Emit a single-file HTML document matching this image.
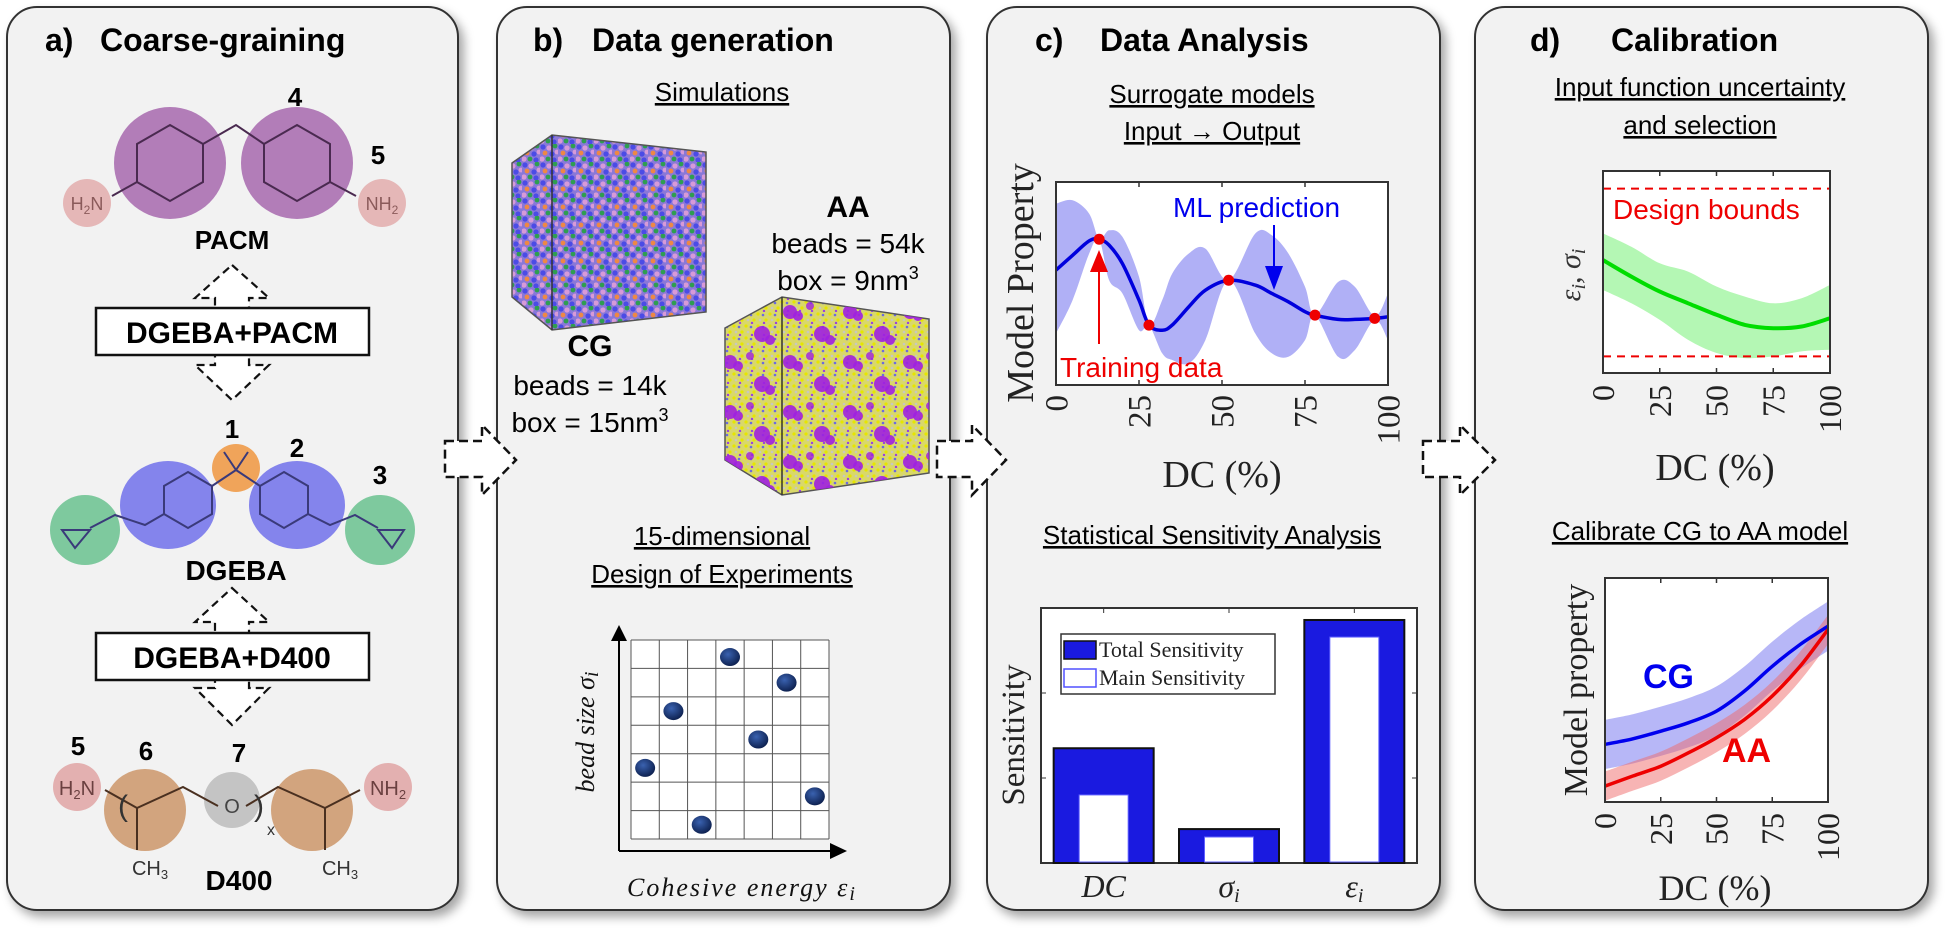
<!DOCTYPE html>
<html><head><meta charset="utf-8"><style>
html,body{margin:0;padding:0;background:#fff;}
svg{display:block;}
.hd{font-family:"Liberation Sans",sans-serif;font-weight:bold;font-size:32px;fill:#000;}
.sub{font-family:"Liberation Sans",sans-serif;font-size:26px;fill:#000;text-decoration:underline;}
.ss{font-family:"Liberation Sans",sans-serif;font-size:28px;fill:#000;}
.bold{font-family:"Liberation Sans",sans-serif;font-weight:bold;fill:#000;}
.ser{font-family:"Liberation Serif",serif;fill:#222;}
</style></head><body>
<svg id="fig" width="1948" height="933" viewBox="0 0 1948 933" xmlns="http://www.w3.org/2000/svg">
<defs>
<filter id="sh" x="-5%" y="-5%" width="115%" height="115%"><feDropShadow dx="5" dy="6" stdDeviation="5" flood-color="#000" flood-opacity="0.35"/></filter>
<pattern id="cgp" width="18" height="18" patternUnits="userSpaceOnUse">
<rect width="18" height="18" fill="#8a78d8"/>
<circle cx="3" cy="3" r="2.6" fill="#4b4be6"/><circle cx="9" cy="4" r="2.6" fill="#d79ad8"/><circle cx="15" cy="2" r="2.4" fill="#2e9e50"/>
<circle cx="5" cy="9" r="2.4" fill="#ee8844"/><circle cx="12" cy="10" r="2.6" fill="#4b4be6"/><circle cx="17" cy="8" r="2.4" fill="#d79ad8"/>
<circle cx="2" cy="15" r="2.6" fill="#d79ad8"/><circle cx="8" cy="15" r="2.4" fill="#2e9e50"/><circle cx="14" cy="16" r="2.6" fill="#4b4be6"/>
</pattern>
<pattern id="aap" width="12" height="12" patternUnits="userSpaceOnUse">
<rect width="12" height="12" fill="#d9d86a"/>
<circle cx="2" cy="2" r="1.6" fill="#e6e600"/><circle cx="7" cy="3" r="1.3" fill="#6a6ae0"/><circle cx="10" cy="8" r="1.6" fill="#e6e600"/>
<circle cx="4" cy="8" r="1.3" fill="#c8c8c0"/><circle cx="8" cy="11" r="1.2" fill="#9a40e0"/>
</pattern>
<pattern id="aab" width="60" height="50" patternUnits="userSpaceOnUse">
<circle cx="10" cy="12" r="7" fill="#a020e0" opacity="0.9"/><circle cx="18" cy="16" r="5" fill="#a020e0" opacity="0.9"/>
<circle cx="42" cy="34" r="8" fill="#a020e0" opacity="0.9"/><circle cx="50" cy="40" r="5" fill="#a020e0" opacity="0.9"/>
<circle cx="30" cy="6" r="4" fill="#a020e0" opacity="0.8"/>
</pattern>
<radialGradient id="dotg" cx="0.4" cy="0.35" r="0.7"><stop offset="0" stop-color="#3a62b0"/><stop offset="1" stop-color="#0b1d4a"/></radialGradient>
<clipPath id="c1clip"><rect x="1056" y="182" width="332" height="203"/></clipPath>
<clipPath id="d1clip"><rect x="1603" y="171" width="227" height="202"/></clipPath>
<clipPath id="d2clip"><rect x="1605" y="578" width="223" height="224"/></clipPath>
</defs>

<!-- panels -->
<rect x="7" y="7" width="451" height="903" rx="30" fill="#f2f2f2" stroke="#333" stroke-width="2" filter="url(#sh)"/>
<rect x="497" y="7" width="453" height="903" rx="30" fill="#f2f2f2" stroke="#333" stroke-width="2" filter="url(#sh)"/>
<rect x="987" y="7" width="453" height="903" rx="30" fill="#f2f2f2" stroke="#333" stroke-width="2" filter="url(#sh)"/>
<rect x="1475" y="7" width="453" height="903" rx="30" fill="#f2f2f2" stroke="#333" stroke-width="2" filter="url(#sh)"/>

<!-- flow arrows -->
<g fill="#fff" stroke="#111" stroke-width="2.5" stroke-dasharray="9,5">
<path d="M445,441 H482 V425 L516,460 L482,495 V477 H445 Z"/>
<path d="M937,441 H972 V425 L1006,460 L972,495 V477 H937 Z"/>
<path d="M1423,441 H1460 V425 L1495,460 L1460,495 V477 H1423 Z"/>
</g>

<!-- ========== PANEL A ========== -->
<g>
<text x="45" y="51" class="hd">a)</text>
<text x="100" y="51" class="hd">Coarse-graining</text>
<!-- PACM -->
<circle cx="87" cy="203" r="24" fill="#e3b0b0" opacity="0.9"/>
<circle cx="382" cy="203" r="24" fill="#e3b0b0" opacity="0.9"/>
<circle cx="170" cy="163" r="56" fill="#b27db8"/>
<circle cx="297" cy="163" r="56" fill="#b27db8"/>
<g fill="none" stroke="#4a2a50" stroke-width="2">
<polygon points="170,125 203,144 203,182 170,201 137,182 137,144"/>
<polygon points="297,125 330,144 330,182 297,201 264,182 264,144"/>
<polyline points="203,144 236,125 264,144"/>
<line x1="137" y1="182" x2="112" y2="196"/><line x1="330" y1="182" x2="356" y2="196"/>
</g>
<text x="87" y="210" text-anchor="middle" font-family="Liberation Sans,sans-serif" font-size="18" fill="#8a5a5a">H<tspan font-size="12" dy="4">2</tspan><tspan dy="-4">N</tspan></text>
<text x="382" y="210" text-anchor="middle" font-family="Liberation Sans,sans-serif" font-size="18" fill="#8a5a5a">NH<tspan font-size="12" dy="4">2</tspan></text>
<text x="295" y="106" text-anchor="middle" class="bold" font-size="26">4</text>
<text x="378" y="164" text-anchor="middle" class="bold" font-size="26">5</text>
<text x="232" y="249" text-anchor="middle" class="bold" font-size="26">PACM</text>
<!-- double arrow 1 -->
<path d="M232,265 L269,298 H249 V365 H269 L232,400 L195,365 H215 V298 H195 Z" fill="#fff" stroke="#111" stroke-width="2.2" stroke-dasharray="8,5"/>
<rect x="96" y="308" width="273" height="47" fill="#fff" stroke="#111" stroke-width="2.5"/>
<text x="232" y="343" text-anchor="middle" class="bold" font-size="30">DGEBA+PACM</text>
<!-- DGEBA -->
<text x="232" y="438" text-anchor="middle" class="bold" font-size="26">1</text>
<text x="297" y="457" text-anchor="middle" class="bold" font-size="26">2</text>
<text x="380" y="484" text-anchor="middle" class="bold" font-size="26">3</text>
<circle cx="85" cy="530" r="35" fill="#7ec99e"/>
<circle cx="380" cy="530" r="35" fill="#7ec99e"/>
<ellipse cx="168" cy="505" rx="48" ry="44" fill="#8484ec"/>
<ellipse cx="297" cy="505" rx="48" ry="44" fill="#8484ec"/>
<circle cx="236" cy="468" r="24" fill="#f0a45a"/>
<g fill="none" stroke="#3a3a7a" stroke-width="2">
<polygon points="188,472 212,486 212,514 188,528 164,514 164,486"/>
<polygon points="284,472 308,486 308,514 284,528 260,514 260,486"/>
<polyline points="212,486 236,470 260,486"/><line x1="236" y1="470" x2="224" y2="452"/><line x1="236" y1="470" x2="248" y2="452"/>
<polyline points="164,514 145,525 115,515 90,528"/><polyline points="308,514 330,525 355,515 378,528"/>
<polygon points="62,530 90,530 75,548"/><polygon points="378,530 404,530 392,548"/>
</g>
<text x="236" y="580" text-anchor="middle" class="bold" font-size="28">DGEBA</text>
<!-- double arrow 2 -->
<path d="M232,588 L269,622 H249 V688 H269 L232,725 L195,688 H215 V622 H195 Z" fill="#fff" stroke="#111" stroke-width="2.2" stroke-dasharray="8,5"/>
<rect x="96" y="633" width="273" height="47" fill="#fff" stroke="#111" stroke-width="2.5"/>
<text x="232" y="668" text-anchor="middle" class="bold" font-size="30">DGEBA+D400</text>
<!-- D400 -->
<text x="78" y="755" text-anchor="middle" class="bold" font-size="26">5</text>
<text x="146" y="760" text-anchor="middle" class="bold" font-size="26">6</text>
<text x="239" y="762" text-anchor="middle" class="bold" font-size="26">7</text>
<circle cx="77" cy="787" r="24" fill="#e3b0b0"/>
<circle cx="388" cy="787" r="24" fill="#e3b0b0"/>
<circle cx="145" cy="810" r="41" fill="#d2a47e"/>
<circle cx="232" cy="800" r="28" fill="#c4c4c4"/>
<circle cx="312" cy="810" r="41" fill="#d2a47e"/>
<g fill="none" stroke="#4a3020" stroke-width="2">
<polyline points="105,790 137,808 183,787 218,806"/><polyline points="246,806 278,787 325,808 360,790"/>
<line x1="137" y1="808" x2="137" y2="850"/><line x1="325" y1="808" x2="325" y2="850"/>
</g>
<text x="118" y="816" font-family="Liberation Sans,sans-serif" font-size="30" fill="#333">(</text>
<text x="254" y="816" font-family="Liberation Sans,sans-serif" font-size="30" fill="#333">)</text>
<text x="267" y="835" font-family="Liberation Sans,sans-serif" font-size="16" fill="#333">x</text>
<text x="232" y="813" text-anchor="middle" font-family="Liberation Sans,sans-serif" font-size="20" fill="#444">O</text>
<text x="77" y="795" text-anchor="middle" font-family="Liberation Sans,sans-serif" font-size="20" fill="#6a4040">H<tspan font-size="13" dy="4">2</tspan><tspan dy="-4">N</tspan></text>
<text x="388" y="795" text-anchor="middle" font-family="Liberation Sans,sans-serif" font-size="20" fill="#6a4040">NH<tspan font-size="13" dy="4">2</tspan></text>
<text x="150" y="875" text-anchor="middle" font-family="Liberation Sans,sans-serif" font-size="20" fill="#333">CH<tspan font-size="13" dy="4">3</tspan></text>
<text x="340" y="875" text-anchor="middle" font-family="Liberation Sans,sans-serif" font-size="20" fill="#333">CH<tspan font-size="13" dy="4">3</tspan></text>
<text x="239" y="890" text-anchor="middle" class="bold" font-size="28">D400</text>
</g>

<!-- ========== PANEL B ========== -->
<g>
<text x="533" y="51" class="hd">b)</text>
<text x="592" y="51" class="hd">Data generation</text>
<text x="722" y="101" text-anchor="middle" class="sub">Simulations</text>
<polygon points="512,163 552,135 706,152 706,312 552,330 512,297" fill="url(#cgp)" stroke="#555" stroke-width="1.5"/>
<line x1="552" y1="135" x2="552" y2="330" stroke="#333" stroke-width="1.5"/>
<text x="590" y="356" text-anchor="middle" class="bold" font-size="30">CG</text>
<text x="590" y="395" text-anchor="middle" class="ss">beads = 14k</text>
<text x="590" y="432" text-anchor="middle" class="ss">box = 15nm<tspan font-size="18" dy="-11">3</tspan></text>
<text x="848" y="217" text-anchor="middle" class="bold" font-size="30">AA</text>
<text x="848" y="253" text-anchor="middle" class="ss">beads = 54k</text>
<text x="848" y="290" text-anchor="middle" class="ss">box = 9nm<tspan font-size="18" dy="-11">3</tspan></text>
<polygon points="725,328 782,297 929,319 929,473 782,495 725,460" fill="url(#aap)" stroke="#555" stroke-width="1.5"/>
<polygon points="725,328 782,297 929,319 929,473 782,495 725,460" fill="url(#aab)"/>
<line x1="782" y1="297" x2="782" y2="495" stroke="#333" stroke-width="1.5"/>
<text x="722" y="545" text-anchor="middle" class="sub">15-dimensional</text>
<text x="722" y="583" text-anchor="middle" class="sub">Design of Experiments</text>
<g id="doe"></g>
<text transform="translate(594,732) rotate(-90)" text-anchor="middle" font-family="Liberation Serif,serif" font-style="italic" font-size="26" fill="#111">bead size σ<tspan font-size="20" dy="4">i</tspan></text>
<text x="742" y="896" text-anchor="middle" font-family="Liberation Serif,serif" font-style="italic" font-size="26" letter-spacing="2" fill="#111">Cohesive energy ε<tspan font-size="20" dy="4">i</tspan></text>
</g>

<!-- ========== PANEL C ========== -->
<g>
<text x="1035" y="51" class="hd">c)</text>
<text x="1100" y="51" class="hd">Data Analysis</text>
<text x="1212" y="103" text-anchor="middle" class="sub">Surrogate models</text>
<text x="1212" y="140" text-anchor="middle" class="sub">Input → Output</text>
<g id="c1"></g>
<text x="1212" y="544" text-anchor="middle" class="sub">Statistical Sensitivity Analysis</text>
<g id="c2"></g>
</g>

<!-- ========== PANEL D ========== -->
<g>
<text x="1530" y="51" class="hd">d)</text>
<text x="1611" y="51" class="hd">Calibration</text>
<text x="1700" y="96" text-anchor="middle" class="sub">Input function uncertainty</text>
<text x="1700" y="134" text-anchor="middle" class="sub">and selection</text>
<g id="d1"></g>
<text x="1700" y="540" text-anchor="middle" class="sub">Calibrate CG to AA model</text>
<g id="d2"></g>
</g>
</svg>

<script>
// ---------- data ----------
// DOE (grid units)
const doeX = [0.5, 1.5, 3.5, 4.5, 5.5, 6.5, 2.5];
const doeY = [2.5, 4.5, 6.4, 3.5, 5.5, 1.5, 0.5];
// c1 surrogate
const c1X = [0,5,10,13,16,20,25,28,32,35,40,45,52,60,65,70,75,78,85,90,96,100];
const c1Mean = [.566,.639,.710,.718,.689,.598,.418,.295,.270,.295,.385,.467,.516,.492,.451,.410,.361,.344,.323,.323,.328,.336];
const c1Upper = [.893,.910,.844,.718,.762,.730,.533,.295,.418,.549,.648,.672,.516,.746,.738,.648,.484,.344,.508,.484,.340,.451];
const c1Lower = [.254,.418,.648,.718,.516,.451,.270,.295,.156,.123,.107,.221,.516,.254,.156,.139,.221,.344,.139,.172,.320,.221];
const trainX = [13,28,52,78,96];
const trainY = [.718,.295,.516,.344,.328];
const dcTicks = ["0","25","50","75","100"];
// c2 sensitivity
const sensCats = ["DC","σ","ε"];
const sensTotal = [0.45,0.133,0.953];
const sensMain = [0.267,0.102,0.886];
// d1 input function
const d1X = [0,12.5,25,37.5,50,62.5,75,87.5,100];
const d1Mean = [.559,.477,.403,.345,.288,.238,.222,.230,.271];
const d1Upper = [.691,.625,.543,.502,.428,.378,.345,.370,.436];
const d1Lower = [.411,.345,.263,.164,.099,.074,.082,.107,.115];
const d1Bounds = [0.913,0.082];
// d2 calibration
const d2X = [0,12.5,25,37.5,50,62.5,75,87.5,100];
const cgMean = [.257,.282,.316,.354,.406,.495,.606,.703,.785];
const cgHalf = [.11,.11,.11,.11,.11,.11,.11,.11,.11];
const aaMean = [.071,.116,.160,.220,.287,.368,.473,.606,.770];
const aaHalf = [.065,.065,.065,.065,.065,.065,.065,.065,.065];

const NS = "http://www.w3.org/2000/svg";
function mk(tag, attrs, parent){const e=document.createElementNS(NS,tag);for(const k in attrs)e.setAttribute(k,attrs[k]);parent.appendChild(e);return e;}
function cr(pts, start){let d=(start||"M")+pts[0][0].toFixed(1)+","+pts[0][1].toFixed(1);
 for(let i=0;i<pts.length-1;i++){const p0=pts[i-1]||pts[i],p1=pts[i],p2=pts[i+1],p3=pts[i+2]||p2;
 const a=[p1[0]+(p2[0]-p0[0])/6,p1[1]+(p2[1]-p0[1])/6],b=[p2[0]-(p3[0]-p1[0])/6,p2[1]-(p3[1]-p1[1])/6];
 d+=" C"+a[0].toFixed(1)+","+a[1].toFixed(1)+" "+b[0].toFixed(1)+","+b[1].toFixed(1)+" "+p2[0].toFixed(1)+","+p2[1].toFixed(1);}return d;}
function band(xs, up, lo, sx, sy){const U=xs.map((x,i)=>[sx(x),sy(up[i])]);const L=xs.map((x,i)=>[sx(x),sy(lo[i])]).reverse();return cr(U)+" "+cr(L,"L")+" Z";}
function axes(g, x0,y0,x1,y1, tickFs, tickY, name){
 mk("rect",{x:x0,y:y0,width:x1-x0,height:y1-y0,fill:"none",stroke:"#333","stroke-width":2},g);
 dcTicks.forEach((t,i)=>{const x=x0+(x1-x0)*i/(dcTicks.length-1);
  if(i>0&&i<dcTicks.length-1){mk("line",{x1:x,y1:y0,x2:x,y2:y0+5,stroke:"#333","stroke-width":1.5},g);mk("line",{x1:x,y1:y1,x2:x,y2:y1-5,stroke:"#333","stroke-width":1.5},g);}
  const tx=mk("text",{transform:`translate(${x+tickFs*0.35},${tickY}) rotate(-90)`,"text-anchor":"end","font-family":"Liberation Serif,serif","font-size":tickFs,fill:"#222"},g);
  
  
  tx.textContent=t;});
}

// ---------- DOE ----------
(function(){const g=document.getElementById("doe");const gx0=631,gx1=829,gy0=640,gy1=839,n=7;
 const sx=v=>gx0+(gx1-gx0)*v/n, sy=v=>gy1-(gy1-gy0)*v/n;
 mk("rect",{x:gx0,y:gy0,width:gx1-gx0,height:gy1-gy0,fill:"#fff"},g);
 for(let i=0;i<=n;i++){mk("line",{x1:sx(i),y1:gy0,x2:sx(i),y2:gy1,stroke:"#555","stroke-width":1},g);mk("line",{x1:gx0,y1:sy(i),x2:gx1,y2:sy(i),stroke:"#555","stroke-width":1},g);}
 mk("path",{d:"M619,851 V640 M619,851 H832",stroke:"#000","stroke-width":2,fill:"none"},g);
 mk("path",{d:"M611,641 L619,625 L627,641 Z M830,843 L847,851 L830,859 Z",fill:"#000"},g);
 doeX.forEach((x,i)=>{const c=mk("ellipse",{cx:sx(x),cy:sy(doeY[i]),rx:10,ry:9,fill:"url(#dotg)"},g);
  
  });
})();

// ---------- c1 ----------
(function(){const g=document.getElementById("c1");const x0=1056,x1=1388,y0=182,y1=385;
 const sx=v=>x0+(x1-x0)*v/100, sy=v=>y1-(y1-y0)*v;
 mk("rect",{x:x0,y:y0,width:x1-x0,height:y1-y0,fill:"#fff"},g);
 const cg=mk("g",{"clip-path":"url(#c1clip)"},g);
 const b=mk("path",{d:band(c1X,c1Upper,c1Lower,sx,sy),fill:"#b0b0f6"},cg);
 
 
 const l=mk("path",{d:cr(c1X.map((x,i)=>[sx(x),sy(c1Mean[i])])),fill:"none",stroke:"#0000dd","stroke-width":3.5},cg);
 
 
 trainX.forEach((x,i)=>{const c=mk("circle",{cx:sx(x),cy:sy(trainY[i]),r:5.5,fill:"#ee0000"},g);
  
  });
 axes(g,x0,y0,x1,y1,33,395,"surrogate");
 // annotations
 const t1=mk("text",{x:1173,y:217,"font-family":"Liberation Sans,sans-serif","font-size":28,fill:"#0000ee"},g);t1.textContent="ML prediction";
 
 
 mk("line",{x1:1274,y1:225,x2:1274,y2:268,stroke:"#0000ee","stroke-width":2},g);
 mk("path",{d:"M1265,266 L1283,266 L1274,290 Z",fill:"#0000ee"},g);
 const t2=mk("text",{x:1060,y:377,"font-family":"Liberation Sans,sans-serif","font-size":28,fill:"#ee0000"},g);t2.textContent="Training  data";
 
 
 mk("line",{x1:1099,y1:270,x2:1099,y2:344,stroke:"#ee0000","stroke-width":2},g);
 mk("path",{d:"M1090,272 L1108,272 L1099,250 Z",fill:"#ee0000"},g);
 const yl=mk("text",{transform:"translate(1033,283) rotate(-90)","text-anchor":"middle","font-family":"Liberation Serif,serif","font-size":38,fill:"#222"},g);yl.textContent="Model Property";
 
 
 const xl=mk("text",{x:1222,y:487,"text-anchor":"middle","font-family":"Liberation Serif,serif","font-size":38,fill:"#222"},g);xl.textContent="DC (%)";
 
 
})();

// ---------- c2 ----------
(function(){const g=document.getElementById("c2");const x0=1041,x1=1417,y0=608,y1=863;
 const sy=v=>y1-(y1-y0)*v; const cw=(x1-x0)/sensCats.length;
 mk("rect",{x:x0,y:y0,width:x1-x0,height:y1-y0,fill:"#fff",stroke:"#333","stroke-width":2},g);
 [1/3,2/3].forEach(v=>{mk("line",{x1:x0,y1:sy(v),x2:x0+5,y2:sy(v),stroke:"#333"},g);mk("line",{x1:x1,y1:sy(v),x2:x1-5,y2:sy(v),stroke:"#333"},g);});
 sensCats.forEach((c,i)=>{const cx=x0+cw*(i+0.5);mk("line",{x1:cx,y1:y0,x2:cx,y2:y0+5,stroke:"#333"},g);
  const r=mk("rect",{x:cx-50,y:sy(sensTotal[i]),width:100,height:y1-sy(sensTotal[i]),fill:"#1a1ae0",stroke:"#111","stroke-width":2},g);
  
  
  const m=mk("rect",{x:cx-24.5,y:sy(sensMain[i]),width:49,height:y1-sy(sensMain[i])-1,fill:"#fff",stroke:"#6060ff","stroke-width":1},g);
  
  
  const t=mk("text",{x:cx,y:897,"text-anchor":"middle","font-family":"Liberation Serif,serif","font-style":"italic","font-size":32,fill:"#222"},g);
  
  
  t.textContent=c; if(i>0){const s=mk("tspan",{"font-size":20,dy:5},t);s.textContent="i";}});
 const lg=mk("g",{},g);
 
 
 mk("rect",{x:1061,y:634,width:214,height:60,fill:"#fff",stroke:"#333","stroke-width":1.5},lg);
 mk("rect",{x:1064,y:641,width:32,height:18,fill:"#1a1ae0",stroke:"#111","stroke-width":1.5},lg);
 mk("rect",{x:1064,y:669,width:32,height:18,fill:"#fff",stroke:"#5050ff","stroke-width":1.5},lg);
 const l1=mk("text",{x:1099,y:657,"font-family":"Liberation Serif,serif","font-size":22,fill:"#222"},lg);l1.textContent="Total Sensitivity";
 const l2=mk("text",{x:1099,y:685,"font-family":"Liberation Serif,serif","font-size":22,fill:"#222"},lg);l2.textContent="Main Sensitivity";
 const yl=mk("text",{transform:"translate(1024,735) rotate(-90)","text-anchor":"middle","font-family":"Liberation Serif,serif","font-size":33,fill:"#222"},g);yl.textContent="Sensitivity";
 
 
})();

// ---------- d1 ----------
(function(){const g=document.getElementById("d1");const x0=1603,x1=1830,y0=171,y1=373;
 const sx=v=>x0+(x1-x0)*v/100, sy=v=>y1-(y1-y0)*v;
 mk("rect",{x:x0,y:y0,width:x1-x0,height:y1-y0,fill:"#fff"},g);
 const cg=mk("g",{"clip-path":"url(#d1clip)"},g);
 const b=mk("path",{d:band(d1X,d1Upper,d1Lower,sx,sy),fill:"#b4f7b4"},cg);
 
 
 const l=mk("path",{d:cr(d1X.map((x,i)=>[sx(x),sy(d1Mean[i])])),fill:"none",stroke:"#00dd00","stroke-width":4},cg);
 
 
 d1Bounds.forEach(v=>{const d=mk("line",{x1:x0,y1:sy(v),x2:x1,y2:sy(v),stroke:"#ee0000","stroke-width":2,"stroke-dasharray":"8,6"},g);
  
  });
 const t=mk("text",{x:1613,y:219,"font-family":"Liberation Sans,sans-serif","font-size":28,fill:"#ee0000"},g);t.textContent="Design bounds";
 
 
 axes(g,x0,y0,x1,y1,32,385,"input-function");
 const yl=mk("text",{transform:"translate(1580,275) rotate(-90)","text-anchor":"middle","font-family":"Liberation Serif,serif","font-style":"italic","font-size":30,fill:"#333"},g);
 
 
 yl.innerHTML='ε<tspan font-size="20" dy="5">i</tspan><tspan dy="-5">, σ</tspan><tspan font-size="20" dy="5">i</tspan>';
 const xl=mk("text",{x:1715,y:480,"text-anchor":"middle","font-family":"Liberation Serif,serif","font-size":38,fill:"#222"},g);xl.textContent="DC (%)";
 
 
})();

// ---------- d2 ----------
(function(){const g=document.getElementById("d2");const x0=1605,x1=1828,y0=578,y1=802;
 const sx=v=>x0+(x1-x0)*v/100, sy=v=>y1-(y1-y0)*v;
 mk("rect",{x:x0,y:y0,width:x1-x0,height:y1-y0,fill:"#fff"},g);
 const cg=mk("g",{"clip-path":"url(#d2clip)"},g);
 const cb=mk("path",{d:band(d2X,cgMean.map((m,i)=>m+cgHalf[i]),cgMean.map((m,i)=>m-cgHalf[i]),sx,sy),fill:"#6f6ff0","fill-opacity":0.5},cg);
 
 
 const ab=mk("path",{d:band(d2X,aaMean.map((m,i)=>m+aaHalf[i]),aaMean.map((m,i)=>m-aaHalf[i]),sx,sy),fill:"#f06a6a","fill-opacity":0.5},cg);
 
 
 const cl=mk("path",{d:cr(d2X.map((x,i)=>[sx(x),sy(cgMean[i])])),fill:"none",stroke:"#0000ee","stroke-width":3.5},cg);
 
 
 const al=mk("path",{d:cr(d2X.map((x,i)=>[sx(x),sy(aaMean[i])])),fill:"none",stroke:"#ee0000","stroke-width":3.5},cg);
 
 
 const t1=mk("text",{x:1643,y:688,"font-family":"Liberation Sans,sans-serif","font-weight":"bold","font-size":34,fill:"#0000ee"},g);t1.textContent="CG";
 
 
 const t2=mk("text",{x:1722,y:762,"font-family":"Liberation Sans,sans-serif","font-weight":"bold","font-size":34,fill:"#ee0000"},g);t2.textContent="AA";
 
 
 axes(g,x0,y0,x1,y1,32,813,"calibration");
 const yl=mk("text",{transform:"translate(1587,690) rotate(-90)","text-anchor":"middle","font-family":"Liberation Serif,serif","font-size":34,fill:"#222"},g);yl.textContent="Model property";
 
 
 const xl=mk("text",{x:1715,y:900,"text-anchor":"middle","font-family":"Liberation Serif,serif","font-size":36,fill:"#222"},g);xl.textContent="DC (%)";
 
 
})();
</script>
</body></html>
